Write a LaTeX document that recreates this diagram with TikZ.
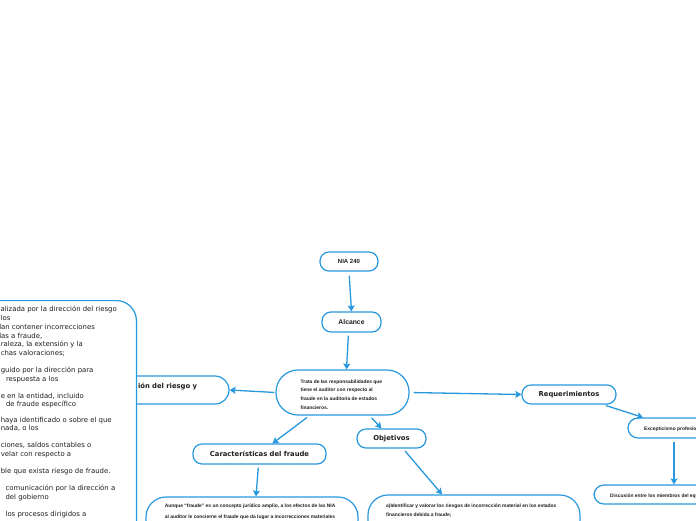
\documentclass[tikz,border=0pt]{standalone}
\usepackage{fontspec}
\setmainfont{DejaVu Sans}
\newfontfamily\arb{Liberation Sans}
\usetikzlibrary{arrows.meta}
\definecolor{mm}{RGB}{40,152,222}
\definecolor{tx}{RGB}{30,30,30}
\begin{document}
\begin{tikzpicture}[x=1pt,y=-1pt,
  box/.style={draw=mm,line width=1.2pt,fill=white,rounded corners=#1,inner sep=0pt},
  box/.default=9pt,
  arr/.style={draw=mm,line width=1.3pt,-{Stealth[length=6pt,width=7pt,inset=1.2pt]},shorten <=3pt},
  bigf/.style={font=\bfseries\fontsize{6.8}{8}\selectfont,text=tx},
  sm/.style={font=\arb\bfseries\fontsize{4.9}{8.7}\selectfont,inner sep=0pt,align=left,text=tx},
  lt/.style={font=\fontsize{6.9}{8.6}\selectfont,anchor=west,inner sep=0pt,text height=5pt,text depth=1.5pt,text=tx}]
\useasboundingbox (0,0) rectangle (696,520);
\fill[white] (0,0) rectangle (696,520);
\clip (0,0) rectangle (696,520);

% centre column
\node[box=9pt,minimum width=58pt,minimum height=19pt,font=\arb\bfseries\fontsize{6}{7}\selectfont,text=tx] (nia) at (349,261.5) {NIA 240};
\node[box=9pt,minimum width=59pt,minimum height=20pt,font=\arb\bfseries\fontsize{6.8}{8}\selectfont,text=tx] (alc) at (351.5,322) {Alcance};
\node[box=22pt,minimum width=133pt,minimum height=45pt] (trata) at (342.5,392.5) {};
\node[sm,anchor=west] (tratatxt) at (300.5,394.5) {Trata de las responsabilidades que\\tiene el auditor con respecto al\\fraude en la auditoría de estados\\financieros.};

% left side
\node[box=14pt,minimum width=190pt,minimum height=28pt] (rie) at (134,390) {};
\node[bigf,anchor=west,inner sep=0pt] (rietxt) at (137.8,386.5) {ión del riesgo y};
\node[box=20pt,minimum width=300pt,minimum height=400pt,anchor=north east] (lbox) at (137,300) {};
\foreach \yy/\xx/\tt [count=\i] in {
  310/0.4/{alizada por la dirección del riesgo},
  319/0.6/{los},
  327.8/-3.4/{dan contener incorrecciones},
  336.6/-3.4/{das a fraude,},
  345.2/0.6/{raleza, la extensión y la},
  353.8/0.6/{chas valoraciones;},
  371/0.6/{guido por la dirección para},
  379.8/5.8/{respuesta a los},
  396.4/0.6/{e en la entidad, incluido},
  404.8/5.8/{de fraude específico},
  420.8/0.6/{haya identificado o sobre el que},
  429/0.6/{nada, o los},
  445.6/0.6/{ciones, saldos contables o},
  454.4/0.6/{velar con respecto a},
  471.4/0.6/{ble que exista riesgo de fraude.},
  488.8/5.4/{comunicación por la dirección a},
  497.3/5.4/{del gobierno},
  515/5.4/{los procesos dirigidos a}}
  \node[lt] (l\i) at (\xx,\yy) {\tt};

% branches
\node[box,minimum width=133pt,minimum height=20pt,bigf] (car) at (259.5,454) {Características del fraude};
\node[box,minimum width=69pt,minimum height=19pt,bigf] (obj) at (391.5,438.5) {Objetivos};
\node[box=20pt,minimum width=212pt,minimum height=63pt] (aun) at (252,528.5) {};
\node[sm,anchor=west,font=\arb\bfseries\fontsize{4.9}{10.6}\selectfont] (auntxt) at (164.7,511.6) {Aunque “fraude” es un concepto jurídico amplio, a los efectos de las NIA\\al auditor le concierne el fraude que da lugar a incorrecciones materiales};
\node[box=20pt,minimum width=212pt,minimum height=65pt] (objb) at (474,527.5) {};
\node[sm,anchor=west,font=\arb\bfseries\fontsize{4.9}{9.3}\selectfont] (objtxt) at (386,510.6) {a)Identificar y valorar los riesgos de incorrección material en los estados\\financieros debida a fraude;};

% right side
\node[box,minimum width=94pt,minimum height=19pt,bigf] (req) at (569,394.5) {Requerimientos};
\node[box=10pt,minimum width=132pt,minimum height=20pt] (exc) at (694,428) {};
\node[sm,anchor=west] (exctxt) at (644,428.8) {Excepticismo profesional};
\node[box=10pt,minimum width=206pt,minimum height=19pt] (dis) at (697,494.5) {};
\node[sm,anchor=west] (distxt) at (610,495.8) {Discusión entre los miembros del equipo del encargo};

% connectors
\draw[arr,shorten <=4pt] (nia.south) -- (alc.north);
\draw[arr] ([xshift=-3pt]alc.south) -- ([xshift=4pt]trata.north);
\draw[arr,shorten <=1pt] (trata.west) -- (rie.east);
\draw[arr,shorten <=4pt] (trata.east) -- (req.west);
\draw[arr] ([xshift=-33pt]trata.south) -- ([xshift=13pt]car.north);
\draw[arr] ([xshift=27pt]trata.south) -- ([xshift=-10pt]obj.north);
\draw[arr] ([xshift=-1pt]car.south) -- ([xshift=4pt]aun.north);
\draw[arr] ([xshift=11.5pt]obj.south) -- ([xshift=-32pt]objb.north);
\draw[arr] ([xshift=34pt]req.south) -- ([xshift=-51pt]exc.north);
\draw[arr] ([xshift=-20pt]exc.south) -- ([xshift=-23pt]dis.north);
\end{tikzpicture}
\end{document}
